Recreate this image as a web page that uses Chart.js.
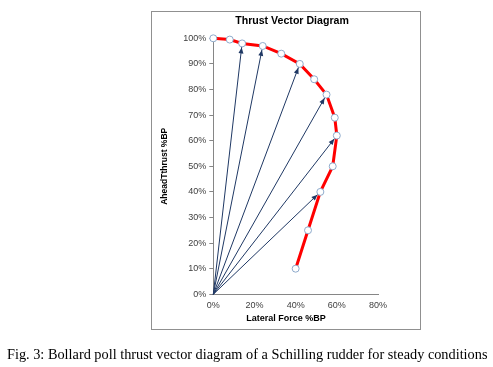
<!DOCTYPE html>
<html>
<head>
<meta charset="utf-8">
<script src="https://cdn.jsdelivr.net/npm/chart.js@4.4.0/dist/chart.umd.min.js"></script>
<style>
  body { margin: 0; background: #fff; }
  #wrap { position: relative; width: 493px; height: 367px; }
  #caption {
    position: absolute; left: 7px; top: 345.5px;
    font: 14.3px "Liberation Serif", "Times New Roman", serif; color: #000;
    white-space: nowrap;
  }
</style>
</head>
<body>
<div id="wrap">
  <canvas id="chart" width="493" height="367"></canvas>
  <div id="caption">Fig. 3: Bollard poll thrust vector diagram of a Schilling rudder for steady conditions</div>
</div>
<script>
// curve of the thrust vector end points (% of bollard pull)
const lateralForce = [0, 8, 14, 24, 33, 42, 49, 55, 59, 60, 58, 52, 46, 40];
const aheadThrust = [100, 99.5, 98, 97, 94, 90, 84, 78, 69, 62, 50, 40, 25, 10];
// which points get a vector arrow from the origin
const arrowIndex = [2, 3, 5, 7, 9, 11];
const xTicks = [0, 20, 40, 60, 80];
const yTicks = [0, 10, 20, 30, 40, 50, 60, 70, 80, 90, 100];

const navy = '#1f3864';
const sans = '"Liberation Sans", Arial, sans-serif';

const curve = lateralForce.map((x, i) => ({ x: x, y: aheadThrust[i] }));

const datasets = [{
  label: 'Thrust',
  data: curve,
  showLine: true,
  borderColor: '#ff0000',
  borderWidth: 3,
  pointRadius: 3.5,
  pointBackgroundColor: '#ffffff',
  pointBorderColor: '#8eaacb',
  pointBorderWidth: 1,
  clip: false
}];

arrowIndex.forEach(i => {
  datasets.push({
    label: 'vec' + i,
    data: [{ x: 0, y: 0 }, curve[i]],
    showLine: true,
    borderColor: navy,
    borderWidth: 1,
    pointRadius: 0,
    arrow: true,
    clip: false
  });
});

// frame, titles and arrow heads
const extras = {
  id: 'extras',
  beforeDraw(chart) {
    const ctx = chart.ctx;
    ctx.save();
    ctx.strokeStyle = '#909090';
    ctx.lineWidth = 1;
    ctx.strokeRect(151.5, 11.5, 269, 318);
    ctx.restore();
  },
  afterDatasetsDraw(chart) {
    const ctx = chart.ctx;
    ctx.save();
    chart.data.datasets.forEach((ds, di) => {
      if (!ds.arrow) return;
      const pts = chart.getDatasetMeta(di).data;
      const a = pts[0], b = pts[1];
      const ang = Math.atan2(b.y - a.y, b.x - a.x);
      const tx = b.x - Math.cos(ang) * 4, ty = b.y - Math.sin(ang) * 4;
      const len = 6, half = 2.5;
      ctx.fillStyle = navy;
      ctx.beginPath();
      ctx.moveTo(tx, ty);
      ctx.lineTo(tx - Math.cos(ang) * len - Math.sin(ang) * half, ty - Math.sin(ang) * len + Math.cos(ang) * half);
      ctx.lineTo(tx - Math.cos(ang) * len + Math.sin(ang) * half, ty - Math.sin(ang) * len - Math.cos(ang) * half);
      ctx.closePath();
      ctx.fill();
    });
    ctx.restore();
  },
  afterDraw(chart) {
    const ctx = chart.ctx;
    ctx.save();
    ctx.fillStyle = '#000';
    ctx.textAlign = 'center';
    ctx.textBaseline = 'middle';
    ctx.font = 'bold 10.6px ' + sans;
    ctx.fillText('Thrust Vector Diagram', 292, 21);
    ctx.font = 'bold 9px ' + sans;
    ctx.fillText('Lateral Force %BP', 286, 319);
    ctx.restore();
  }
};

new Chart(document.getElementById('chart'), {
  type: 'scatter',
  data: { datasets: datasets },
  options: {
    responsive: false,
    animation: false,
    layout: { padding: { left: 155, right: 115, top: 38.3, bottom: 37 } },
    plugins: { legend: { display: false }, tooltip: { enabled: false } },
    scales: {
      x: {
        type: 'linear', min: 0, max: 80,
        afterBuildTicks: s => { s.ticks = xTicks.map(v => ({ value: v })); },
        afterFit: s => { s.height = 35.7; },
        border: { color: '#868686', width: 1 },
        grid: { display: true, drawOnChartArea: false, drawTicks: false },
        ticks: {
          padding: 6, color: '#404040',
          font: { family: sans, size: 9 },
          callback: v => v + '%'
        }
      },
      y: {
        type: 'linear', min: 0, max: 100,
        afterBuildTicks: s => { s.ticks = yTicks.map(v => ({ value: v })); },
        afterFit: s => { s.width = 58.3; },
        border: { color: '#868686', width: 1 },
        grid: { display: true, drawOnChartArea: false, drawTicks: true, tickLength: 4, tickColor: '#868686' },
        ticks: {
          padding: 3, color: '#404040',
          font: { family: sans, size: 9 },
          callback: v => v + '%'
        },
        title: {
          display: true, text: 'AheadTthrust %BP', color: '#000',
          font: { family: sans, size: 8.5, weight: 'bold' },
          padding: { top: 4.6, bottom: 0 }
        }
      }
    }
  },
  plugins: [extras]
});
</script>
</body>
</html>
